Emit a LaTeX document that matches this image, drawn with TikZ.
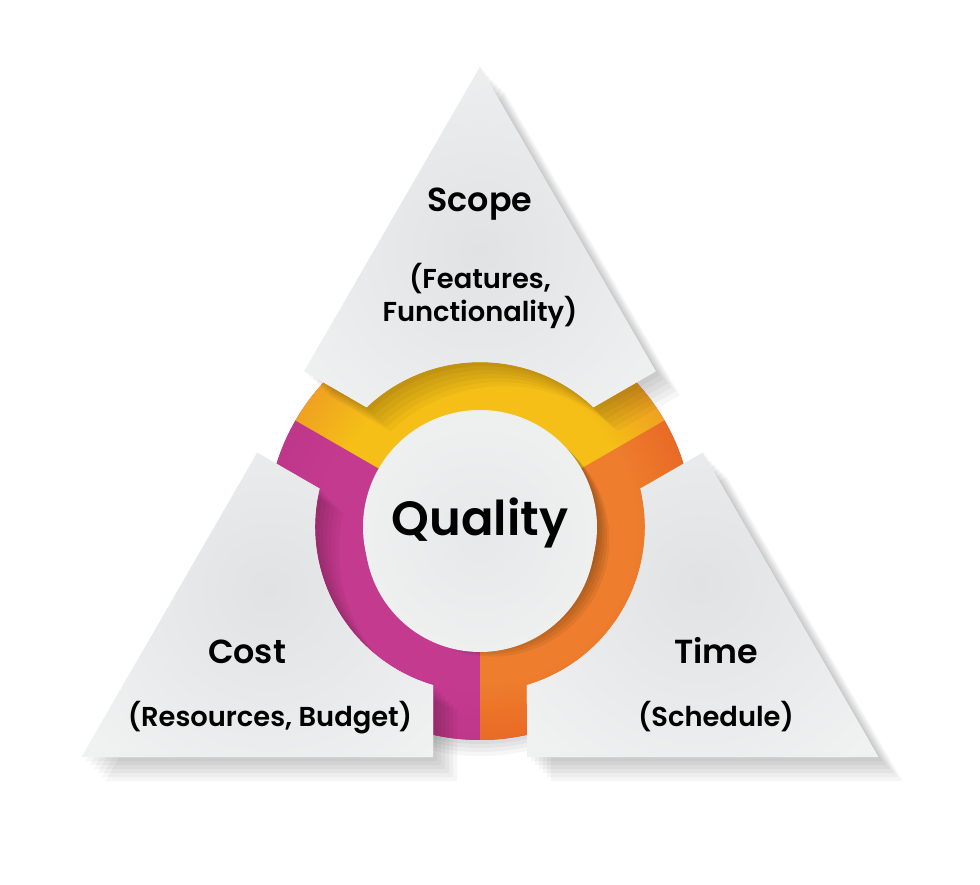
\documentclass[tikz,border=0pt]{standalone}
\usepackage{fontspec}
\setmainfont{Poppins}
\IfFontExistsTF{Poppins SemiBold}{\newfontfamily\semib{Poppins SemiBold}}{\newfontfamily\semib{Poppins}[UprightFont=*, BoldFont=*]\let\oldsemib\semib\renewcommand\semib{\oldsemib\bfseries}}
\definecolor{ylw}{HTML}{F5BF17}
\definecolor{ylwB}{HTML}{EFA121}
\definecolor{org}{HTML}{EE7E2D}
\definecolor{orgB}{HTML}{E96A26}
\definecolor{mag}{HTML}{C43A8F}
\definecolor{magB}{HTML}{BE3789}
\definecolor{pieceout}{HTML}{F0F1F1}
\definecolor{piecein}{HTML}{E1E2E4}
\definecolor{innerout}{HTML}{EEEFEF}
\definecolor{innerin}{HTML}{E7E8E9}
\pgfdeclareradialshading{ylwsh}{\pgfpoint{0bp}{0bp}}{color(0bp)=(ylw); color(18bp)=(ylw); color(25bp)=(ylwB); color(50bp)=(ylwB)}
\pgfdeclareradialshading{orgsh}{\pgfpoint{0bp}{0bp}}{color(0bp)=(org); color(18bp)=(org); color(25bp)=(orgB); color(50bp)=(orgB)}
\pgfdeclareradialshading{magsh}{\pgfpoint{0bp}{0bp}}{color(0bp)=(mag); color(18bp)=(mag); color(25bp)=(magB); color(50bp)=(magB)}
\newcommand\ScopeP{(0,460) -- (-175.7,155.7) -- (133.45:165) arc[start angle=133.45, end angle=46.55, radius=165] -- (175.7,155.7) -- cycle}
\newcommand\CostP{(-398.4,-230) -- (-47,-230) -- (253.45:165) arc[start angle=253.45, end angle=166.55, radius=165] -- (-222.7,74.3) -- cycle}
\newcommand\TimeP{(398.4,-230) -- (222.7,74.3) -- (13.45:165) arc[start angle=13.45, end angle=-73.45, radius=165] -- (47,-230) -- cycle}
\begin{document}
\begin{tikzpicture}[x=0.75pt,y=0.75pt,
  title/.style={font=\semib\fontsize{25}{29}\selectfont, text=black, inner sep=0pt, anchor=base},
  subtitle/.style={font=\semib\fontsize{20.5}{24.5}\selectfont, text=black, inner sep=0pt, align=center},
  bigtitle/.style={font=\semib\fontsize{36}{42}\selectfont, text=black, inner sep=0pt, anchor=base},
  pshadow/.style={fill=black, fill opacity=0.035},
  piecefill/.style={fill=pieceout}]
\useasboundingbox (-480,-357) rectangle (500,527);
\fill[white] (-480,-357) rectangle (500,527);
% ring drop shadow
\foreach \k in {1,...,4} {\fill[black, fill opacity=0.035] (0,-4*\k) circle[radius=213];}
% ring sectors
\fill[mag] (0,0) circle[radius=213];
\begin{scope}
  \clip (0,0) -- (150:260) arc[start angle=150, end angle=270, radius=260] -- cycle;
  \shade[shading=magsh] (0,0) circle[radius=213];
\end{scope}
\begin{scope}
  \clip (0,0) -- (29.8:260) arc[start angle=29.8, end angle=150, radius=260] -- cycle;
  \shade[shading=ylwsh] (0,0) circle[radius=213];
\end{scope}
\begin{scope}
  \clip (0,0) -- (-90:260) arc[start angle=-90, end angle=30, radius=260] -- cycle;
  \shade[shading=orgsh] (0,0) circle[radius=213];
\end{scope}
% inner circle shadow and disc
\foreach \k in {1,...,5} {\fill[black, fill opacity=0.06] (2.5*\k,-2.5*\k) circle[radius=117];}
\fill[innerout] (0,0) circle[radius=117];
\shade[inner color=innerin, outer color=innerout] (0,-10) circle[radius=115];
% piece shadows
\foreach \k in {1,...,6} {
  \path[pshadow, shift={(4*\k,-4*\k)}] \ScopeP;
  \path[pshadow, shift={(4*\k,-4*\k)}] \CostP;
  \path[pshadow, shift={(4*\k,-4*\k)}] \TimeP;
}
% pieces
\path[piecefill] \ScopeP;
\begin{scope}
  \clip \ScopeP;
  \shade[inner color=piecein, outer color=pieceout] (0,277) circle[radius=230];
\end{scope}
\path[piecefill] \CostP;
\begin{scope}
  \clip \CostP;
  \shade[inner color=piecein, outer color=pieceout] (-210,-63) circle[radius=230];
\end{scope}
\path[piecefill] \TimeP;
\begin{scope}
  \clip \TimeP;
  \shade[inner color=piecein, outer color=pieceout] (220,-56) circle[radius=230];
\end{scope}
% texts
\node[title] (scope) at (0,315) {Scope};
\node[subtitle] (scopesub) at (0,231) {(Features,\\Functionality)};
\node[bigtitle] (quality) at (0,-9) {Quality};
\node[title] (cost) at (-233,-136) {Cost};
\node[subtitle, anchor=base] (costsub) at (-210,-199) {(Resources, Budget)};
\node[title] (time) at (236,-136) {Time};
\node[subtitle, anchor=base] (timesub) at (236,-199) {(Schedule)};
\end{tikzpicture}
\end{document}
